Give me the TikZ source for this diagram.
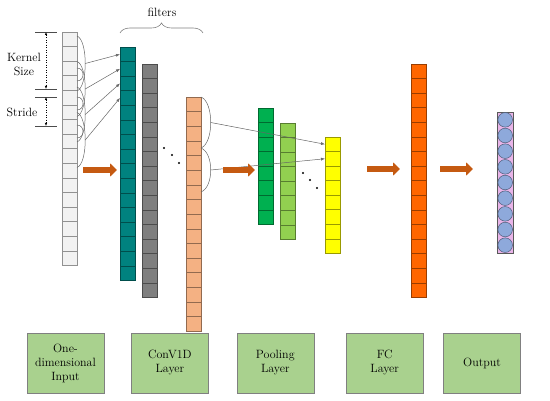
\documentclass[tikz,border=0pt]{standalone}
\usepackage{mathpazo}
\usetikzlibrary{arrows.meta,positioning,calc,decorations.pathreplacing}

\definecolor{inputgray}{HTML}{F2F2F2}
\definecolor{tealcol}{HTML}{00827F}
\definecolor{graycol}{HTML}{7F7F7F}
\definecolor{peachcol}{HTML}{F4B183}
\definecolor{greencol}{HTML}{00B050}
\definecolor{lgreencol}{HTML}{92D050}
\definecolor{yellowcol}{HTML}{FFFF00}
\definecolor{fccol}{HTML}{FF6600}
\definecolor{pinkcol}{HTML}{E8B4E8}
\definecolor{bluecol}{HTML}{8EA9DB}
\definecolor{boxgreen}{HTML}{A9D18E}
\definecolor{arrowbrown}{HTML}{C55A11}

\begin{document}
\begin{tikzpicture}
		[x=1pt,y=-1pt,>={Latex[length=4pt,width=3pt]},
		 col/.style   = {draw=#1!60!black, fill=#1, shape=rectangle,
		                 minimum width=15pt, inner sep=0pt, anchor=north west},
		 layer/.style = {draw=gray, fill=boxgreen, shape=rectangle, align=center,
		                 minimum width=77pt, minimum height=60pt, inner sep=1pt},
		 fat/.style   = {draw=arrowbrown, line width=6pt,
		                 -{Triangle[length=7pt,width=13pt]}},
		 thinline/.style = {draw=gray!80!black, line width=0.5pt},
		 dimline/.style  = {dotted, line width=0.5pt,
		                    {Latex[length=3pt,width=2.4pt]}-{Latex[length=3pt,width=2.4pt]}},
		 tick/.style     = {draw=black!70, line width=0.5pt},
		 font=\fontsize{12}{14}\selectfont,
		]
		\useasboundingbox (0,0) rectangle (550,401);

		% columns
		\node [col=inputgray, minimum height=233pt] (input)  at (62,32)  {};
		\node [col=tealcol,   minimum height=233pt] (teal)   at (120,47) {};
		\node [col=graycol,   minimum height=233pt] (gray)   at (142,64) {};
		\node [col=peachcol,  minimum height=234pt] (peach)  at (186,97) {};
		\node [col=greencol,  minimum height=116pt] (green)  at (258,108) {};
		\node [col=lgreencol, minimum height=116pt] (lgreen) at (280,123) {};
		\node [col=yellowcol, minimum height=116pt] (yellow) at (325,137) {};
		\node [col=fccol,     minimum height=233pt] (fc)     at (411,64) {};
		\node [col=pinkcol, draw=gray!70!black, minimum width=16pt, minimum height=141pt] (outbar) at (497,112) {};

		\foreach \c/\n/\clr in {input/16/inputgray, teal/16/tealcol, gray/16/graycol,
		                        peach/16/peachcol, fc/16/fccol, green/8/greencol,
		                        lgreen/8/lgreencol, yellow/8/yellowcol}
		{
			\pgfmathtruncatemacro\m{\n-1}
			\foreach \k in {1,...,\m}
				\draw [\clr!60!black, line width=0.6pt]
					($(\c.north west)!\k/\n!(\c.south west)$) -- ($(\c.north east)!\k/\n!(\c.south east)$);
		}
		\foreach \k in {0,...,8}
			\draw [fill=bluecol, draw=bluecol!55!black, line width=0.5pt]
				($(outbar.north)+(0,{7.83+15.67*\k})$) circle (7.3pt);

		% kernel size and stride
		\draw [tick] (35,32) -- (57,32);
		\draw [tick] (35,89) -- (57,89);
		\draw [tick] (35,97) -- (57,97);
		\draw [tick] (35,126) -- (57,126);
		\draw [dimline] (46,32) -- (46,89);
		\draw [dimline] (46,97) -- (46,126);
		\node [align=center] (kernel) at (24,64) {Kernel\\Size};
		\node (stride) at (22,112) {Stride};

		% windows on the input
		\foreach \i in {0,...,3}
		{
			\draw [thinline] (77,{36+25.5*\i}) .. controls (88,{40+25.5*\i}) and (88,{87+25.5*\i}) .. (77,{91+25.5*\i})
				coordinate [pos=0.5] (win\i);
			\draw [thinline, ->] (win\i) -- ($(teal.north west)+(0,{14.56*(\i+0.5)})$);
		}
		\foreach \y in {68,97,125}
			\draw [thinline] (77,\y) .. controls (85,\y) and (85,\y+13) .. (77,\y+13);

		% windows on the feature map
		\draw [thinline] (201,97) .. controls (214,102) and (214,143) .. (201,148) coordinate [pos=0.5] (pw1);
		\draw [thinline] (201,148) .. controls (214,153) and (214,187) .. (201,192) coordinate [pos=0.5] (pw2);
		\draw [thinline, ->] (pw1) -- ($(yellow.north west)+(0,7.25)$);
		\draw [thinline, ->] (pw2) -- ($(yellow.north west)+(0,21.75)$);

		% filters
		\draw [decorate, decoration={brace, amplitude=10pt}, draw=gray, line width=0.6pt] (120,33) -- (203,33);
		\node (filters) at (162,12) {filters};

		% dots
		\foreach \x/\y in {164/148, 172/155, 179/163, 303/173, 310/180, 317/188}
			\fill (\x,\y) circle (1.2pt);

		% layer arrows
		\coordinate (a1s) at (83,170);  \coordinate (a1e) at (117,170);
		\coordinate (a2s) at (223,170); \coordinate (a2e) at (255,170);
		\coordinate (a3s) at (367,169); \coordinate (a3e) at (400,169);
		\coordinate (a4s) at (440,169); \coordinate (a4e) at (473,169);
		\draw [fat] (a1s) -- (a1e);
		\draw [fat] (a2s) -- (a2e);
		\draw [fat] (a3s) -- (a3e);
		\draw [fat] (a4s) -- (a4e);

		% layer names
		\node [layer]                          (inbox)   at (65.5,363) {One-\\dimensional\\Input};
		\node [layer, right=27pt of inbox]     (convbox) {ConV1D\\Layer};
		\node [layer, right=28pt of convbox]   (poolbox) {Pooling\\Layer};
		\node [layer, right=32pt of poolbox]   (fcbox)   {FC\\Layer};
		\node [layer, right=20pt of fcbox]     (outbox)  {Output};

\end{tikzpicture}
\end{document}
